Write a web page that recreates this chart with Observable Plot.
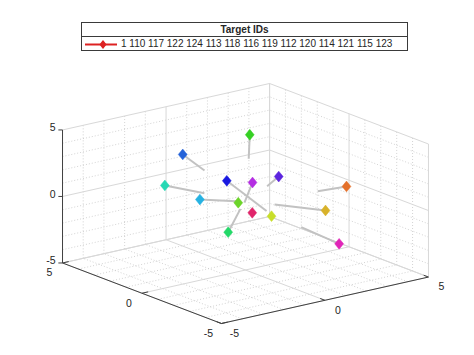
<!DOCTYPE html>
<html><head><meta charset="utf-8">
<script src="https://cdn.jsdelivr.net/npm/d3@7"></script>
<script src="https://cdn.jsdelivr.net/npm/@observablehq/plot@0.6"></script>
<style>
body{margin:0;background:#fff;}
#wrap{position:relative;width:474px;height:355px;font-family:"Liberation Sans",Arial,sans-serif;color:#262626;}
#legend{position:absolute;left:81px;top:22px;width:327px;height:29px;box-sizing:border-box;border:1px solid #3a3a3a;background:#fff;}
#legend .ttl{height:13px;line-height:13px;border-bottom:1px solid #3a3a3a;text-align:center;font-weight:bold;font-size:10px;}
#legend .row{position:relative;height:14px;}
#legend .row svg{position:absolute;left:0;top:0;}
#legend .row span{position:absolute;left:39px;top:0;line-height:14px;font-size:10px;white-space:nowrap;}
</style></head><body><div id="wrap"></div>
<script>
// ---- data ----
const legendTitle = "Target IDs";
const legendIds = [1, 110, 117, 122, 124, 113, 118, 116, 119, 112, 120, 114, 121, 115, 123];
const legendColor = "#dd2222";
const ids    = [110, 117, 122, 124, 113, 118, 116, 119, 112, 120, 114, 121, 115, 123];
const posX   = [4.11, 2.33, 0.49, -0.35, 1.74, -2.37, -2.36, -2.97, -1.88, -0.52, 0.07, 0.34, 2.22, -0.44];
const posY   = [-1, -2, -1, 0, 2, -2, 2, -1, 1.5, 0.5, -2, 0, -3, -1];
const posZ   = [0.30, -0.43, -0.67, 0.18, 3.65, -0.42, 1.27, 1.79, 3.66, 1.66, 2.91, 1.46, -2.44, -0.09];
const tailX  = [2.72, -0.13, 0.49, -0.35, 1.69, -1.78, -0.45, -1.22, -0.83, 1.40, -0.49, -0.05, 0.39, -0.44];
const tailY  = [-1, -2, -1, 0, 2, -2, 2, -1, 1.5, 0.5, -2, 0, -3, -1];
const tailZ  = [0.43, 0.88, -0.67, 0.18, 1.86, 1.13, 0.02, 1.05, 2.09, -1.28, 2.38, 0.09, -0.55, -0.09];
const colors = ["#e4702a", "#d8b22a", "#c8de2a", "#6cd42a", "#36d024", "#24d868", "#26d8b4",
                "#26b2e2", "#2462d8", "#1818e0", "#5c24de", "#b42ee2", "#e026b8", "#e0246a"];
const majorTicks = [-5, 0, 5];
const minorTicks = [-4, -3, -2, -1, 1, 2, 3, 4];
const tickLabels = ["-5", "0", "5"];
const view = {az: -37.5, el: 17, zAspect: 0.533};

// ---- projection (orthographic, MATLAB-like view) ----
const ra = view.az * Math.PI / 180, re = view.el * Math.PI / 180;
function proj(x, y, z) {
  const h = x * Math.cos(ra) + y * Math.sin(ra);
  const v = (-x * Math.sin(ra) + y * Math.cos(ra)) * Math.sin(re) + z * Math.cos(re) * view.zAspect;
  return [h, v];
}
function seg(a, b, extra) {
  const p = proj(...a), q = proj(...b);
  return Object.assign({x1: p[0], y1: p[1], x2: q[0], y2: q[1]}, extra || {});
}
const lo = -5, hi = 5;
function gridFor(vals) {
  const out = [];
  for (const t of vals) {
    out.push(seg([t, lo, lo], [t, hi, lo]));
    out.push(seg([lo, t, lo], [hi, t, lo]));
    out.push(seg([t, hi, lo], [t, hi, hi]));
    out.push(seg([lo, hi, t], [hi, hi, t]));
    out.push(seg([hi, t, lo], [hi, t, hi]));
    out.push(seg([hi, lo, t], [hi, hi, t]));
  }
  return out;
}
const minorGrid = gridFor(minorTicks);
const majorGrid = gridFor(majorTicks);
const axesLines = [
  seg([lo, hi, lo], [lo, hi, hi]),
  seg([lo, lo, lo], [lo, hi, lo]),
  seg([lo, lo, lo], [hi, lo, lo])
];
const tickLen = 0.3;
const ticks = [];
majorTicks.forEach(t => {
  ticks.push(seg([t, lo, lo], [t, lo + tickLen, lo]));
  ticks.push(seg([lo, t, lo], [lo + tickLen, t, lo]));
  const p = proj(lo, hi, t);
  ticks.push({x1: p[0], y1: p[1], x2: p[0] - 0.16, y2: p[1]});
});
const labX = majorTicks.map((t, i) => { const p = proj(t, lo, lo); return {x: p[0], y: p[1], t: tickLabels[i]}; });
const labY = majorTicks.map((t, i) => { const p = proj(lo, t, lo); return {x: p[0], y: p[1], t: tickLabels[i]}; });
const labZ = majorTicks.map((t, i) => { const p = proj(lo, hi, t); return {x: p[0], y: p[1], t: tickLabels[i]}; });

const targets = ids.map((id, i) => {
  const p = proj(posX[i], posY[i], posZ[i]);
  const q = proj(tailX[i], tailY[i], tailZ[i]);
  return {id, x: p[0], y: p[1], tx: q[0], ty: q[1], color: colors[i]};
});

const diamond = {
  draw(ctx, size) {
    const r = Math.sqrt(size / Math.PI);
    const w = r * 0.82, h = r;
    ctx.moveTo(0, -h); ctx.lineTo(w, 0); ctx.lineTo(0, h); ctx.lineTo(-w, 0); ctx.closePath();
  }
};

const W = 474, H = 355, px = 26.1, ox = 245, oy = 203;
const chart = Plot.plot({
  width: W, height: H, margin: 0,
  style: {fontFamily: "'Liberation Sans', Arial, sans-serif", background: "#fff"},
  x: {domain: [-ox / px, (W - ox) / px], axis: null},
  y: {domain: [-(H - oy) / px, oy / px], axis: null},
  marks: [
    Plot.link(minorGrid, {x1: "x1", y1: "y1", x2: "x2", y2: "y2", stroke: "#c8c8c8", strokeWidth: 0.8, strokeDasharray: "1,2"}),
    Plot.link(majorGrid, {x1: "x1", y1: "y1", x2: "x2", y2: "y2", stroke: "#d8d8d8", strokeWidth: 1}),
    Plot.link(axesLines, {x1: "x1", y1: "y1", x2: "x2", y2: "y2", stroke: "#404040", strokeWidth: 1}),
    Plot.link(ticks, {x1: "x1", y1: "y1", x2: "x2", y2: "y2", stroke: "#404040", strokeWidth: 1}),
    Plot.text(labX, {x: "x", y: "y", text: "t", dx: 13, dy: 10, fontSize: 10.5, fill: "#262626"}),
    Plot.text(labY, {x: "x", y: "y", text: "t", dx: -13, dy: 10, fontSize: 10.5, fill: "#262626"}),
    Plot.text(labZ, {x: "x", y: "y", text: "t", dx: -7, dy: -2, textAnchor: "end", fontSize: 10.5, fill: "#262626"}),
    Plot.link(targets, {x1: "x", y1: "y", x2: "tx", y2: "ty", stroke: "#c2c2c2", strokeWidth: 2}),
    Plot.dot(targets, {x: "x", y: "y", symbol: diamond, r: 5.4, fill: "color", stroke: "color", strokeWidth: 0.5})
  ]
});
const wrap = document.getElementById("wrap");
wrap.appendChild(chart);

const leg = document.createElement("div");
leg.id = "legend";
leg.innerHTML = `<div class="ttl"></div><div class="row">
<svg width="38" height="14"><line x1="3" y1="7.5" x2="35" y2="7.5" stroke="${legendColor}" stroke-width="2"/>
<path d="M21,3 L24.6,7.5 L21,12 L17.4,7.5 Z" fill="${legendColor}"/></svg><span></span></div>`;
leg.querySelector(".ttl").textContent = legendTitle;
leg.querySelector("span").textContent = legendIds.join(" ");
wrap.appendChild(leg);
</script>
</body></html>
